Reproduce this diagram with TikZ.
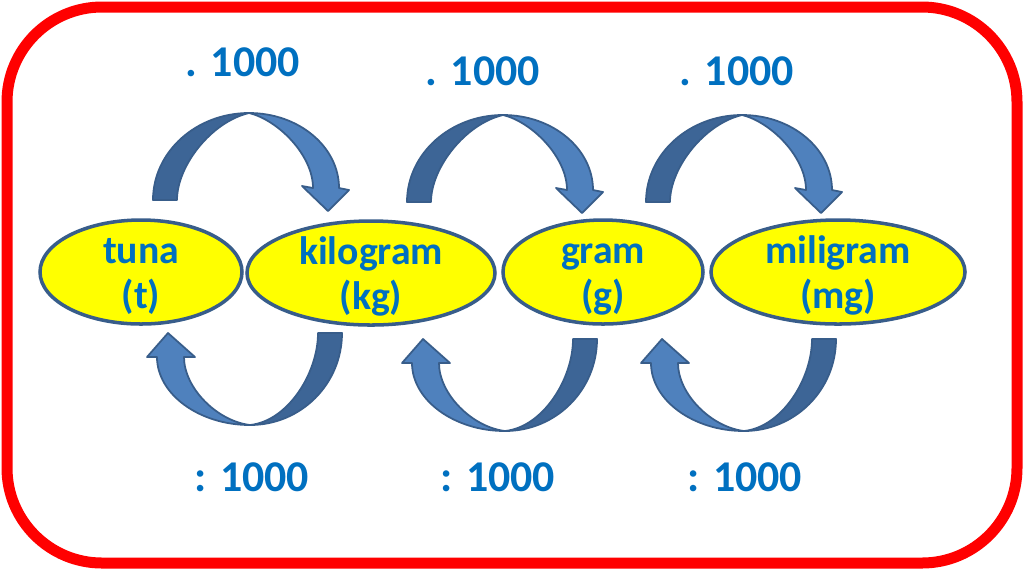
\documentclass[tikz,border=0pt]{standalone}
\usepackage{fontspec}
\setmainfont{Carlito}
\usepackage{xcolor}
\usepackage{tikz}
\usetikzlibrary{shapes.geometric}
\definecolor{txtblue}{HTML}{0070C0}
\definecolor{arrdark}{HTML}{3D6596}
\definecolor{arrlight}{HTML}{4F81BD}
\definecolor{arredge}{HTML}{385D8A}
\definecolor{ovalyellow}{HTML}{FFFF00}
\tikzstyle{unit} = [ellipse, draw=arredge, line width=1pt, fill=ovalyellow, inner sep=0, minimum height=10.4mm]
\tikzstyle{unittext} = [text=txtblue, align=center, inner sep=0, yshift=-0.45mm, font=\fontsize{11.3}{12.8}\selectfont\bfseries]
\tikzstyle{factor} = [text=txtblue, inner sep=0, font=\fontsize{12.5}{15}\selectfont\bfseries]
\tikzstyle{band} = [draw=arredge, line width=0.5pt, line join=round]
\tikzset{
  overarc/.pic = {
    \draw [band, fill=arrdark] (0,0) .. controls (0,-48) and (43,-87) .. (96,-87)
      .. controls (58,-78) and (24,-34) .. (24,0) -- cycle;
    \draw [band, fill=arrlight] (96,-87) .. controls (146,-87) and (186,-53) .. (186,-12)
      -- (196,-10) -- (175,11) -- (149,-14) -- (160,-12)
      .. controls (160,-45) and (125,-80) .. (96,-87) -- cycle;
  },
  underarc/.pic = {
    \draw [band, fill=arrlight] (-92,92) .. controls (-143,92) and (-185,61) .. (-185,24)
      -- (-195,24) -- (-174,0) -- (-147,24) -- (-158,24)
      .. controls (-158,55) and (-125,88) .. (-92,92) -- cycle;
    \draw [band, fill=arrdark] (0,0) .. controls (0,51) and (-41,92) .. (-92,92)
      .. controls (-54,88) and (-24,40) .. (-24,0) -- cycle;
  }
}

\begin{document}
\begin{tikzpicture}[x=0.1mm, y=-0.1mm]
\useasboundingbox (0,0) rectangle (1024,570);
\fill [white] (0,0) rectangle (1024,570);
\draw [red, line width=1.1mm, rounded corners=9.5mm] (7,7) rectangle (1017,563);

% units
\node [unit, minimum width=20.2mm, label={[unittext]center:{\strut tuna\\\strut (t)}}] (t) at (141,272) {};
\node [unit, minimum width=24.8mm, label={[unittext]center:{\strut kilogram\\\strut (kg)}}] (kg) at (371,273) {};
\node [unit, minimum width=20.0mm, label={[unittext]center:{\strut gram\\\strut (g)}}] (g) at (603,272) {};
\node [unit, minimum width=25.4mm, label={[unittext]center:{\strut miligram\\\strut (mg)}}] (mg) at (838,272) {};

% arrows over and under
\pic at (153,200) {overarc};
\pic at (407,202) {overarc};
\pic at (646,202) {overarc};
\pic at (342,333) {underarc};
\pic at (597,339) {underarc};
\pic at (836,339) {underarc};

% factors
\node [factor] (mul1) at (243,62) {. 1000};
\node [factor] (mul2) at (483,71) {. 1000};
\node [factor] (mul3) at (737,71) {. 1000};
\node [factor] (div1) at (252,477) {: 1000};
\node [factor] (div2) at (498,477) {: 1000};
\node [factor] (div3) at (745,477) {: 1000};
\end{tikzpicture}
\end{document}
